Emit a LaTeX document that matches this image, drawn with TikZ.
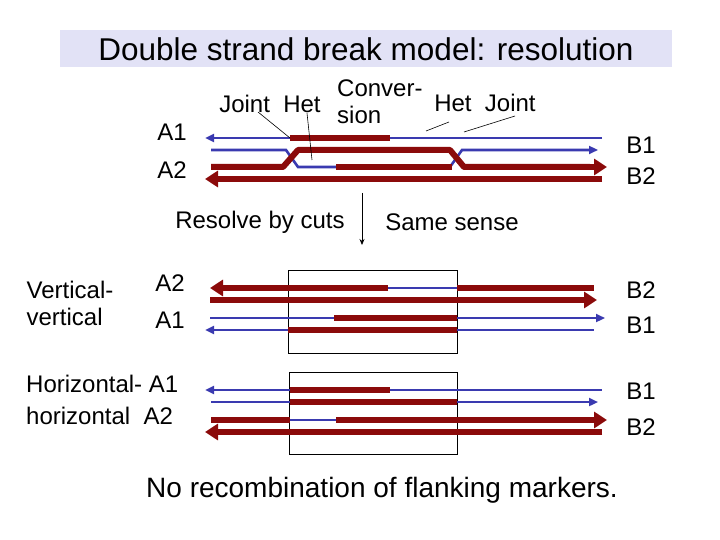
\documentclass[tikz,border=0pt]{standalone}
\usepackage{fontspec}
\setmainfont{Liberation Sans}
\usetikzlibrary{arrows.meta}
\definecolor{dred}{HTML}{8B0A0A}
\definecolor{dblue}{HTML}{3A3AB0}
\definecolor{tbox}{HTML}{E2E2F6}
\begin{document}
\begin{tikzpicture}[x=1pt,y=-1pt,
  R/.style={draw=dred,line width=6pt},
  B/.style={draw=dblue,line width=2.6pt},
  RA/.style={R,-{Triangle[length=13pt,width=16pt]}},
  BA/.style={B,-{Triangle[length=9pt,width=8pt]}},
  lab/.style={font=\fontsize{24}{27}\selectfont,inner sep=0pt},
  ptr/.style={draw=black,line width=0.6pt}]
\useasboundingbox (0,0) rectangle (720,540);
\node[fill=tbox,minimum width=612pt,minimum height=37pt,anchor=north west,inner sep=0pt] (title) at (60,30) {};
\node[font=\fontsize{31.5}{34}\selectfont] (tt) at (366,49) {Double strand break model: resolution};
% top diagram
\draw[BA] (602,138) -- (205,138);
\draw[R,line cap=butt] (290,138) -- (390,138);
\draw[B] (211,150) -- (286,150) -- (298,167) -- (336,167);
\draw[B] (450,167) -- (462,150) -- (590,150);
\draw[BA] (580,150) -- (598,150);
\draw[R,line join=round] (211,167) -- (283,167) -- (298,150) -- (450,150) -- (464,167) -- (590,167);
\draw[RA] (585,167) -- (607,167);
\draw[R] (336,167) -- (452,167);
\draw[RA] (602,179) -- (205,179);
\node[lab] (a1) at (172,132) {A1};
\node[lab] (a2) at (172,170) {A2};
\node[lab] (b1) at (641,145) {B1};
\node[lab] (b2) at (641,176) {B2};
\node[lab] (jh) at (270,104) {Joint\ \ Het};
\node[lab,align=left,anchor=north west] (cv) at (337,80) {Conver-\\sion};
\node[lab] (hj) at (485,103) {Het\ \ Joint};
\coordinate (p1) at (290,138); \coordinate (p2) at (312,160);
\coordinate (p3) at (426,131); \coordinate (p4) at (464,132);
\draw[ptr] (258,112) -- (p1);
\draw[ptr] (307,113) -- (p2);
\draw[ptr] (p3) -- (449,122);
\draw[ptr] (p4) -- (515,116);
\node[lab] (rc) at (260,222) {Resolve by cuts};
\node[lab] (ss) at (452,222) {Same sense};
\coordinate (d1) at (362,193); \coordinate (d2) at (362,245);
\draw[-{Stealth[length=6pt,width=5pt]},line width=0.8pt] (d1) -- (d2);
% vertical-vertical
\node[draw=black,line width=0.8pt,minimum width=169pt,minimum height=83pt,anchor=north west,inner sep=0pt] (box1) at (288,270) {};
\node[lab,align=left] (vv) at (70,303) {Vertical-\\vertical};
\node[lab] (va2) at (170,283) {A2};
\node[lab] (va1) at (170,320) {A1};
\node[lab] (vb2) at (641,290) {B2};
\node[lab] (vb1) at (641,325) {B1};
\draw[RA] (388,288) -- (210,288);
\draw[B] (388,288) -- (457,288);
\draw[R] (457,288) -- (594,288);
\draw[RA] (210,300) -- (597,300);
\draw[B] (210,318) -- (334,318);
\draw[R] (334,318) -- (457,318);
\draw[BA] (457,318) -- (605,318);
\draw[BA] (288,330) -- (205,330);
\draw[R] (288,330) -- (457,330);
\draw[B] (457,330) -- (594,330);
% horizontal-horizontal
\node[draw=black,line width=0.8pt,minimum width=168pt,minimum height=82pt,anchor=north west,inner sep=0pt] (box2) at (289,372) {};
\node[lab,anchor=west] (hh1) at (26,384) {Horizontal- A1};
\node[lab,anchor=west] (hh2) at (26,416) {horizontal \ A2};
\node[lab] (hb1) at (641,391) {B1};
\node[lab] (hb2) at (641,427) {B2};
\draw[BA] (290,390) -- (205,390);
\draw[R] (290,390) -- (390,390);
\draw[B] (390,390) -- (602,390);
\draw[B] (211,402) -- (290,402);
\draw[R] (290,402) -- (457,402);
\draw[BA] (457,402) -- (598,402);
\draw[R] (211,420) -- (290,420);
\draw[B] (290,420) -- (336,420);
\draw[RA] (336,420) -- (607,420);
\draw[RA] (602,432) -- (205,432);
\node[font=\fontsize{28}{30}\selectfont] (nr) at (382,490) {No recombination of flanking markers.};
\end{tikzpicture}
\end{document}
